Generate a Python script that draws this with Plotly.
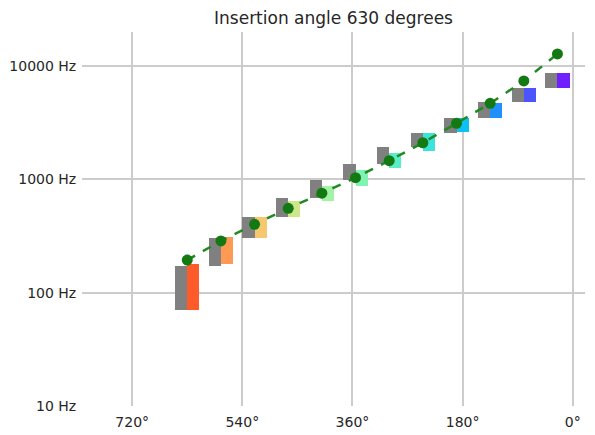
import plotly.graph_objects as go

# electrode angles (degrees) and their characteristic frequencies (Hz)
angles = [630, 575, 520, 465, 410, 355, 300, 245, 190, 135, 80, 25]
cf_hz = [194, 286, 401, 555, 754, 1035, 1462, 2103, 3118, 4688, 7381, 12770]

# filter bands (gray = default, coloured = fitted)
gray_low = [70, 172, 302, 468, 689, 987, 1365, 1910, 2588, 3477, 4766, 6397]
gray_high = [172, 302, 468, 689, 987, 1365, 1910, 2588, 3477, 4766, 6397, 8635]
col_low = [70, 178, 305, 462, 649, 879, 1248, 1791, 2601, 3500, 4787, 6442]
col_high = [178, 308, 462, 649, 873, 1208, 1706, 2547, 3461, 4688, 6355, 8635]
colors = ['#ff5a2a', '#ff9a55', '#f5c870', '#cde68a', '#a2f3a6', '#80f3b2',
          '#5aeec8', '#3ce2dc', '#10c0f0', '#2090ff', '#4a55ff', '#7020ff']

x_ticks = [720, 540, 360, 180, 0]
y_ticks = [10, 100, 1000, 10000]

bw = 20

fig = go.Figure()

fig.add_trace(go.Bar(
    x=[a + bw / 2 for a in angles],
    y=[h - l for l, h in zip(gray_low, gray_high)],
    base=gray_low,
    width=bw,
    marker=dict(color='#808080', line=dict(width=0)),
    showlegend=False))

fig.add_trace(go.Bar(
    x=[a - bw / 2 for a in angles],
    y=[h - l for l, h in zip(col_low, col_high)],
    base=col_low,
    width=bw,
    marker=dict(color=colors, line=dict(width=0)),
    showlegend=False))

fig.add_trace(go.Scatter(
    x=angles, y=cf_hz,
    mode='lines+markers',
    line=dict(color='#1f8a1f', width=2.5, dash='dash'),
    marker=dict(color='#137a13', size=11),
    showlegend=False))

# page has an 8px body offset, margins compensate for it
fig.update_layout(
    width=595, height=435,
    barmode='overlay',
    bargap=0,
    plot_bgcolor='white',
    paper_bgcolor='white',
    margin=dict(l=74, r=18, t=24, b=37),
    font=dict(family='DejaVu Sans', size=14, color='#262626'),
    title=dict(text='Insertion angle 630 degrees', x=0.5, xanchor='center',
               xref='paper', y=0.978, yanchor='middle', font=dict(size=17)),
)

fig.update_xaxes(
    range=[802, -20],
    tickvals=x_ticks,
    ticktext=[f'{t}°' for t in x_ticks],
    showgrid=True, gridcolor='#cccccc', gridwidth=1.5,
    zeroline=False, showline=False, ticks='outside', ticklen=3,
    tickcolor='rgba(0,0,0,0)', automargin=False)

fig.update_yaxes(
    type='log',
    range=[1, 4.3],
    tickvals=y_ticks,
    ticktext=[f'{t} Hz' for t in y_ticks],
    showgrid=True, gridcolor='#cccccc', gridwidth=1.5,
    zeroline=False, showline=False, ticks='outside', ticklen=2,
    tickcolor='rgba(0,0,0,0)', automargin=False)

fig.write_html('out.html')
